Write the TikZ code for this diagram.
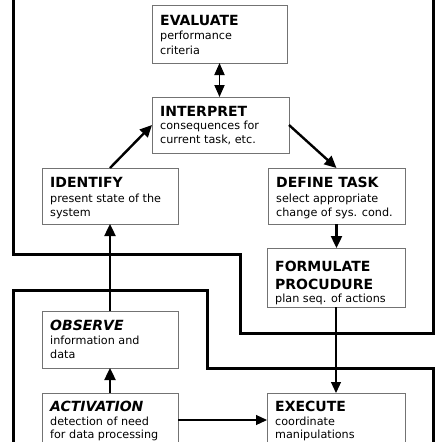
\documentclass[tikz,border=0pt]{standalone}
\usepackage{fontspec}
\setmainfont{DejaVu Sans}
\usetikzlibrary{arrows.meta,calc}
\begin{document}
\begin{tikzpicture}[x=1pt,y=-1pt,
  box/.style={draw=black!55, line width=0.9pt, fill=white, inner sep=0pt, outer sep=0pt, anchor=north west},
  hd/.style={anchor=base west, inner sep=0pt, font=\fontsize{14}{16}\selectfont\bfseries},
  hdi/.style={anchor=base west, inner sep=0pt, font=\fontsize{14}{16}\selectfont\bfseries\itshape},
  bd/.style={anchor=base west, inner sep=0pt, font=\fontsize{11.2}{13}\selectfont},
  frame/.style={line width=3pt, line join=miter},
  bigarrow/.style={line width=2.4pt, -{Triangle[length=12pt,width=11pt]}},
  smallarrow/.style={line width=1.2pt, -{Triangle[length=11pt,width=10pt]}}
]
\useasboundingbox (0,0) rectangle (442,442);
\clip (0,0) rectangle (442,442);
\fill[white] (0,0) rectangle (442,442);

% frames
\draw[frame] (13,-10) -- (13,254) -- (240,254) -- (240,333) -- (433,333) -- (433,-10);
\draw[frame] (13,452) -- (13,290) -- (207,290) -- (207,368) -- (433,368) -- (433,452);

% boxes
\node[box, minimum width=135pt, minimum height=58pt] (eval) at (152,5) {};
\node[box, minimum width=137pt, minimum height=56pt] (interp) at (152,97) {};
\node[box, minimum width=136pt, minimum height=56pt] (ident) at (42,168) {};
\node[box, minimum width=137pt, minimum height=56pt] (deftask) at (268,168) {};
\node[box, minimum width=138pt, minimum height=59pt] (formul) at (267,248) {};
\node[box, minimum width=136pt, minimum height=57pt] (observe) at (42,311) {};
\node[box, minimum width=136pt, minimum height=70pt] (activ) at (42,393) {};
\node[box, minimum width=138pt, minimum height=70pt] (exec) at (267,393) {};

% texts
\node[hd] (evalH) at ($(eval.north west)+(8,20)$) {EVALUATE};
\node[bd] (evalA) at ($(eval.north west)+(8,34)$) {performance};
\node[bd] (evalB) at ($(eval.north west)+(8,49)$) {criteria};

\node[hd] (interpH) at ($(interp.north west)+(8,19)$) {INTERPRET};
\node[bd] (interpA) at ($(interp.north west)+(8,32)$) {consequences for};
\node[bd] (interpB) at ($(interp.north west)+(8,46)$) {current task, etc.};

\node[hd] (identH) at ($(ident.north west)+(8,19)$) {IDENTIFY};
\node[bd] (identA) at ($(ident.north west)+(8,34)$) {present state of the};
\node[bd] (identB) at ($(ident.north west)+(8,48)$) {system};

\node[hd] (defH) at ($(deftask.north west)+(8,19)$) {DEFINE TASK};
\node[bd] (defA) at ($(deftask.north west)+(8,34)$) {select appropriate};
\node[bd] (defB) at ($(deftask.north west)+(8,48)$) {change of sys. cond.};

\node[hd] (formH) at ($(formul.north west)+(8,23)$) {FORMULATE};
\node[hd] (formH2) at ($(formul.north west)+(8,41)$) {PROCUDURE};
\node[bd] (formA) at ($(formul.north west)+(8,54)$) {plan seq. of actions};

\node[hdi] (obsH) at ($(observe.north west)+(8,19)$) {OBSERVE};
\node[bd] (obsA) at ($(observe.north west)+(8,33)$) {information and};
\node[bd] (obsB) at ($(observe.north west)+(8,47)$) {data};

\node[hdi] (actH) at ($(activ.north west)+(8,18)$) {ACTIVATION};
\node[bd] (actA) at ($(activ.north west)+(8,32)$) {detection of need};
\node[bd] (actB) at ($(activ.north west)+(8,45)$) {for data processing};

\node[hd] (execH) at ($(exec.north west)+(8,18)$) {EXECUTE};
\node[bd] (execA) at ($(exec.north west)+(8,32)$) {coordinate};
\node[bd] (execB) at ($(exec.north west)+(8,45)$) {manipulations};

% connectors
\draw[line width=1.8pt, {Triangle[length=12pt,width=10pt]}-{Triangle[length=12pt,width=10pt]}] (eval.south) -- (eval.south |- interp.north);
\draw[bigarrow] (ident.north) -- (interp.west);
\draw[bigarrow] (interp.east) -- (deftask.north);
\draw[bigarrow] (deftask.south) -- (deftask.south |- formul.north);
\draw[bigarrow] (observe.north) -- (ident.south);
\draw[bigarrow] (activ.north) -- (observe.south);
\draw[smallarrow] (formul.south) -- (formul.south |- exec.north);
\path (activ.north east) ++(0,27) coordinate (ae);
\draw[smallarrow] (ae) -- (ae -| exec.west);
\end{tikzpicture}
\end{document}
